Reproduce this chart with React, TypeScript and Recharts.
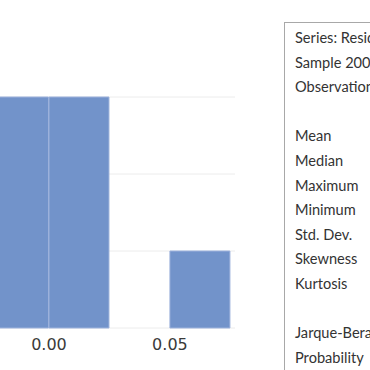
import React from 'react';
import { BarChart, Bar, XAxis, YAxis, CartesianGrid } from 'recharts';

// histogram bins (bin midpoints) and counts
const binMids = [-0.0125, 0.0125, 0.0375, 0.0625];
const counts = [3, 3, 0, 1];
const xTicks = [0, 0.05];
const yTicks = [0, 1, 2, 3];

const statLabels = [
  'Series: Residuals',
  'Sample 2001 2018',
  'Observations 18',
  '',
  'Mean',
  'Median',
  'Maximum',
  'Minimum',
  'Std. Dev.',
  'Skewness',
  'Kurtosis',
  '',
  'Jarque-Bera',
  'Probability',
];

const chartData = binMids.map((mid, i) => ({ mid, count: counts[i] }));

export default function App() {
  return (
    <div
      style={{
        position: 'absolute',
        left: 0,
        top: 0,
        width: 370,
        height: 370,
        overflow: 'hidden',
        background: '#fff',
      }}
    >
      <div style={{ position: 'absolute', left: 0, top: 0 }}>
        <BarChart
          width={235}
          height={370}
          data={chartData}
          margin={{ top: 97, right: 0, bottom: 0, left: 0 }}
          barCategoryGap={0}
          barGap={0}
        >
          <CartesianGrid horizontal vertical={false} stroke="#ECECEC" />
          <XAxis
            dataKey="mid"
            type="number"
            domain={[-0.02025, 0.0769]}
            allowDataOverflow
            ticks={xTicks}
            tickFormatter={(v: number) => v.toFixed(2)}
            axisLine={false}
            tickLine={false}
            tickMargin={5}
            height={42}
            tick={{ fontSize: 16, fill: '#3a3a3a', fontFamily: 'DejaVu Sans' }}
          />
          <YAxis hide domain={[0, 3]} ticks={yTicks} />
          <Bar
            dataKey="count"
            fill="#7293CA"
            stroke="#9DB2DC"
            strokeWidth={1}
            isAnimationActive={false}
          />
        </BarChart>
      </div>
      <div
        style={{
          position: 'absolute',
          left: 284,
          top: 22,
          width: 200,
          height: 400,
          border: '1px solid #A8A8A8',
          boxSizing: 'border-box',
          fontFamily: 'Lato',
          fontSize: 14.6,
          color: '#333',
          paddingLeft: 10,
          paddingTop: 3,
          whiteSpace: 'nowrap',
        }}
      >
        {statLabels.map((s, i) => (
          <div key={i} style={{ height: 24.6, lineHeight: '24.6px' }}>
            {s || '\u00a0'}
          </div>
        ))}
      </div>
    </div>
  );
}
